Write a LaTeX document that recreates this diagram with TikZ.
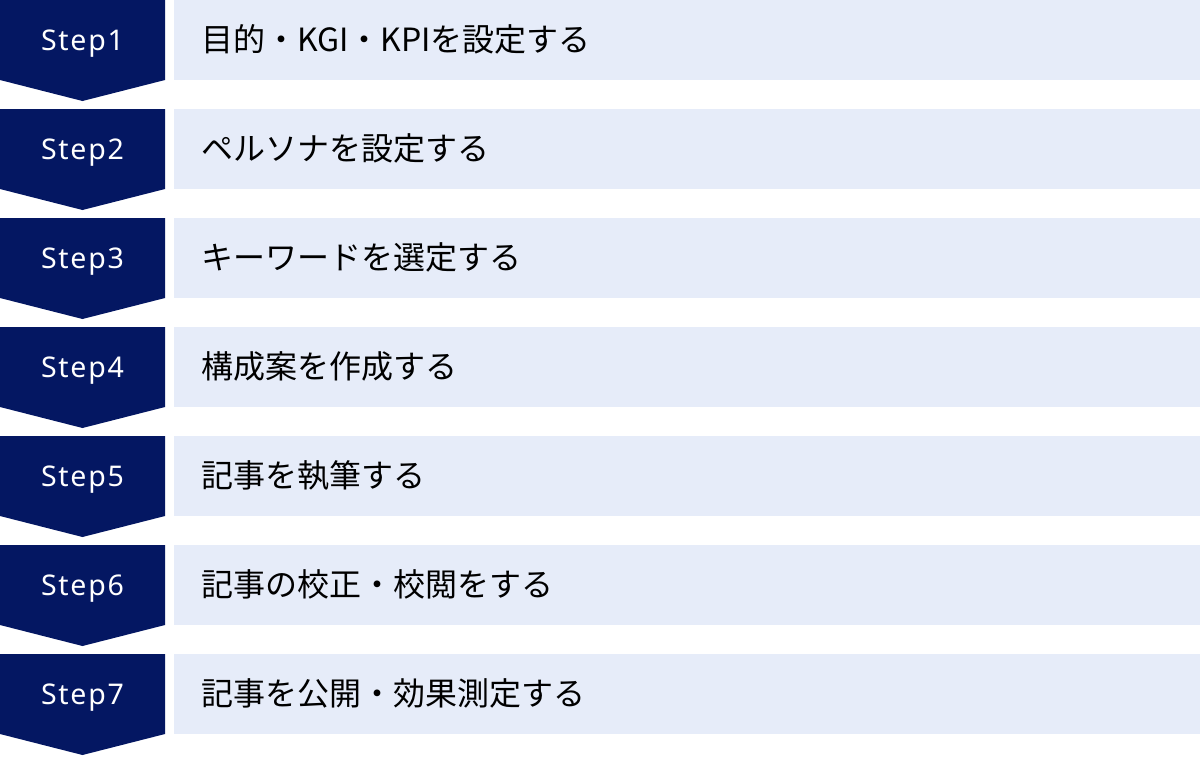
\documentclass[tikz,border=0pt]{standalone}
\usepackage{fontspec}
\setmainfont{Noto Sans}
\newfontfamily\jpfont{Noto Sans CJK JP}
\newfontfamily\stepfont[LetterSpace=6]{Noto Sans}
\definecolor{navy}{RGB}{4,23,98}
\definecolor{lightbar}{RGB}{230,236,249}
\begin{document}
\begin{tikzpicture}[x=1pt,y=-1pt,
  stepshape/.style={fill=navy},
  barshape/.style={fill=lightbar},
  steplabel/.style={inner sep=0pt,anchor=base,text=white,font=\stepfont\fontsize{28.5}{30}\selectfont},
  tasklabel/.style={inner sep=0pt,anchor=base west,text=black,font=\jpfont\fontsize{32}{36}\selectfont}]
\useasboundingbox (0,0) rectangle (1200,756);
\foreach \i/\t in {1/{目的・KGI・KPIを設定する},2/{ペルソナを設定する},3/{キーワードを選定する},4/{構成案を作成する},5/{記事を執筆する},6/{記事の校正・校閲をする},7/{記事を公開・効果測定する}}{
  \pgfmathsetmacro{\top}{(\i-1)*109}
  \fill[stepshape] (0,\top) -- (165,\top) -- (165,\top+80) -- (82.5,\top+101) -- (0,\top+80) -- cycle;
  \fill[barshape] (174,\top) rectangle (1200,\top+80);
  \node[steplabel] (step\i) at (82.5,\top+50.5) {Step\i};
  \node[tasklabel] (task\i) at (201,\top+51) {\t};
}
\end{tikzpicture}
\end{document}
